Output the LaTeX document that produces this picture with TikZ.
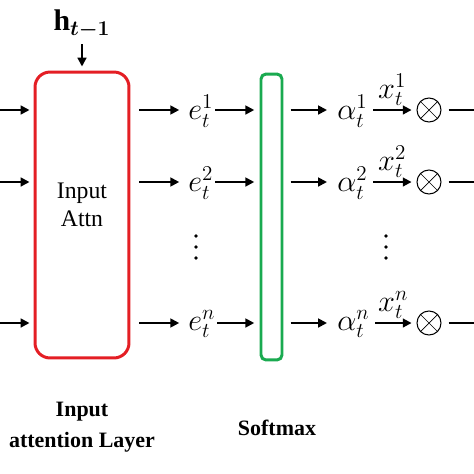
\documentclass[tikz,border=0pt]{standalone}
\usepackage{amsmath}
\usepackage{bm}
\usepackage{fontspec}
\setmainfont{Liberation Serif}[BoldFont={Liberation Serif Bold}]
\newfontfamily\lblfont{Liberation Serif}
\usetikzlibrary{arrows.meta}
\definecolor{attnred}{RGB}{228,30,36}
\definecolor{smgreen}{RGB}{26,170,80}
\tikzset{
	arr/.style={line width=1.1pt, -{Triangle[length=5pt,width=5pt]}},
	sym/.style={inner sep=0pt, font=\fontsize{17.5}{21}\selectfont},
	mult/.style={draw, circle, line width=0.6pt, minimum size=0.48cm, inner sep=0pt},
	caption/.style={align=center, font=\bfseries\fontsize{12.5}{17.6}\selectfont},
}

\begin{document}
\begin{tikzpicture}[x=0.02cm, y=-0.02cm]
		%%%%% START %%%%%
		\useasboundingbox (0,0) rectangle (474,474);
		
		% input attention layer
		\node[draw=attnred, line width=1.7pt, rounded corners=0.3cm, minimum width=1.88cm, minimum height=5.72cm] (attn) at (82,215) {};
		\node[align=center, font=\lblfont\fontsize{13.5}{16}\selectfont] (attnlbl) at (82,205) {Input\\Attn};
		\node[font=\fontsize{17}{20}\selectfont] (hprev) at (82,24) {$\mathbf{h}_{\bm{t-1}}$};
		\draw[arr, shorten >=2.3pt] (hprev) -- (attn);
		
		% softmax
		\node[draw=smgreen, line width=1.7pt, rounded corners=0.1cm, minimum width=0.42cm, minimum height=5.72cm] (smax) at (271.5,217) {};
		
		% rows
		\foreach \s/\y in {1/110, 2/182, n/323} {
			\coordinate (in\s) at (0,\y);
			\node[sym, anchor=west] (e\s) at (188,\y+1) {$e_t^{\s}$};
			\node[sym, anchor=west] (a\s) at (337,\y+1) {$\alpha_t^{\s}$};
			\node[mult] (m\s) at (429,\y) {};
			\coordinate (out\s) at (474,\y);
			
			\draw[arr, shorten >=2.3pt] (in\s) -- (attn.west |- in\s);
			\draw[arr, shorten <=5pt, shorten >=5pt] (attn.east |- in\s) -- (e\s.west |- in\s);
			\draw[arr, shorten <=1pt, shorten >=3pt] (e\s.east |- in\s) -- (smax.west |- in\s);
			\draw[arr, shorten <=4pt, shorten >=5.7pt] (smax.east |- in\s) -- (a\s.west |- in\s);
			\draw[arr, shorten <=3pt, shorten >=2.8pt] (a\s.east |- in\s) -- (m\s)
				node[midway, above=2pt, sym] {$x_t^{\s}$};
			\draw (m\s.45) -- (m\s.225) (m\s.135) -- (m\s.315);
			\draw[line width=1.1pt, shorten <=4pt] (m\s) -- (out\s);
		}
		
		% dots
		\foreach \x in {196,386}
			\foreach \d in {236,247,258}
				\fill (\x,\d) circle (1.1pt);
		
		% captions
		\node[caption] (attncap) at (82,427) {Input\\attention Layer};
		\node[caption] (smaxcap) at (277,428) {Softmax};
		%%%%% END %%%%%
\end{tikzpicture}
\end{document}
